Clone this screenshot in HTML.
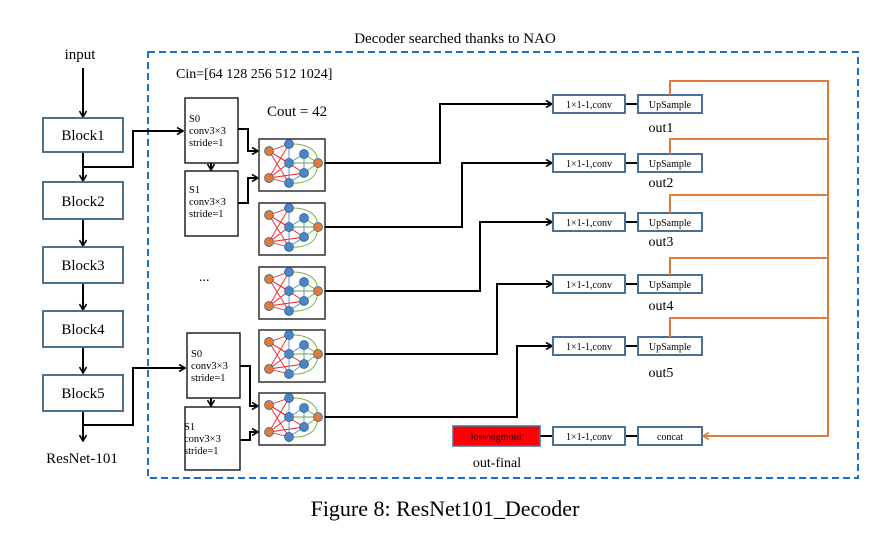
<!DOCTYPE html>
<html><head><meta charset="utf-8"><style>
html,body{margin:0;padding:0;background:#fff;}
svg{display:block;font-family:"Liberation Serif",serif;}
</style></head><body>
<svg width="896" height="546" viewBox="0 0 896 546" xmlns="http://www.w3.org/2000/svg">
<defs>
<marker id="ah" markerWidth="8" markerHeight="8" refX="7" refY="4" orient="auto" markerUnits="userSpaceOnUse"><path d="M1,0.5 L7,4 L1,7.5" fill="none" stroke="#000" stroke-width="1.6"/></marker>
<marker id="ao" markerWidth="8" markerHeight="8" refX="7" refY="4" orient="auto" markerUnits="userSpaceOnUse"><path d="M1,0.5 L7,4 L1,7.5" fill="none" stroke="#e07b39" stroke-width="1.6"/></marker>
<g id="cell">
<rect x="0" y="0" width="66" height="52" fill="#fff" stroke="#333" stroke-width="1.5"/>
<g stroke="#e22" stroke-width="0.9" fill="none">
<path d="M10,12 L30,5 M10,12 L30,24 M10,12 L30,44 M10,39 L30,5 M10,39 L30,24 M10,39 L30,44 M10,12 L45,34 M10,39 L45,34"/>
</g>
<g stroke="#4a90d9" stroke-width="0.9" fill="none">
<path d="M30,44 L30,5 M30,24 L45,15 M30,44 L45,34 M45,34 L45,15"/>
</g>
<g stroke="#6aaa3a" stroke-width="0.9" fill="none">
<path d="M30,5 Q58,4 59,24 M30,44 Q58,46 59,24 M45,15 L59,24 M45,34 L59,24 M30,24 L59,24"/>
</g>
<g stroke="#2a5a8a" stroke-width="0.7">
<circle cx="10" cy="12" r="4.5" fill="#e07b39"/><circle cx="10" cy="39" r="4.5" fill="#e07b39"/>
<circle cx="30" cy="5" r="4.5" fill="#4a86c5"/><circle cx="30" cy="24" r="4.5" fill="#4a86c5"/><circle cx="30" cy="44" r="4.5" fill="#4a86c5"/>
<circle cx="45" cy="15" r="4.5" fill="#4a86c5"/><circle cx="45" cy="34" r="4.5" fill="#4a86c5"/>
<circle cx="59" cy="24" r="4.5" fill="#e07b39"/>
</g>
</g>
</defs>

<text x="455" y="43" font-size="15" text-anchor="middle">Decoder searched thanks to NAO</text>
<rect x="148" y="52" width="710" height="426" fill="none" stroke="#1a70c8" stroke-width="2" stroke-dasharray="7,4"/>
<text x="176" y="78" font-size="14">Cin=[64 128 256 512 1024]</text>
<text x="267" y="116" font-size="15">Cout = 42</text>
<text x="199" y="281" font-size="14">...</text>

<text x="80" y="59" font-size="15" text-anchor="middle">input</text>
<g stroke="#000" stroke-width="2" fill="none" marker-end="url(#ah)">
<path d="M83,68 L83,117"/><path d="M83,152 L83,181"/><path d="M83,219 L83,246"/><path d="M83,283 L83,310"/><path d="M83,347 L83,373"/><path d="M83,411 L83,441"/>
</g>
<g fill="#fff" stroke="#4a6f95" stroke-width="2">
<rect x="43" y="118" width="80" height="34"/><rect x="43" y="182" width="80" height="37"/><rect x="43" y="247" width="80" height="36"/><rect x="43" y="311" width="80" height="36"/><rect x="43" y="375" width="80" height="36"/>
</g>
<g font-size="15" text-anchor="middle">
<text x="83" y="140">Block1</text><text x="83" y="206">Block2</text><text x="83" y="270">Block3</text><text x="83" y="334">Block4</text><text x="83" y="398">Block5</text>
</g>
<text x="82" y="463" font-size="15" text-anchor="middle">ResNet-101</text>

<g stroke="#000" stroke-width="2" fill="none">
<path d="M83,167 L133,167 L133,131 L183,131" marker-end="url(#ah)"/>
<path d="M83,425 L133,425 L133,368 L185,368" marker-end="url(#ah)"/>
</g>

<g fill="#fff" stroke="#000" stroke-width="1.3">
<rect x="185" y="98" width="53" height="65"/><rect x="185" y="171" width="53" height="65"/>
<rect x="187" y="333" width="53" height="65"/><rect x="185" y="407" width="55" height="63"/>
</g>
<g font-size="10.5">
<text x="189" y="122">S0</text><text x="189" y="134">conv3×3</text><text x="189" y="146">stride=1</text>
<text x="189" y="193">S1</text><text x="189" y="205">conv3×3</text><text x="189" y="217">stride=1</text>
<text x="191" y="357">S0</text><text x="191" y="369">conv3×3</text><text x="191" y="381">stride=1</text>
<text x="184" y="430">S1</text><text x="184" y="442">conv3×3</text><text x="184" y="454">stride=1</text>
</g>
<g stroke="#000" stroke-width="2" fill="none" marker-end="url(#ah)">
<path d="M211,163 L211,170"/><path d="M211,398 L211,406"/>
<path d="M238,129 L248,129 L248,151 L258,151"/>
<path d="M238,203 L248,203 L248,178 L258,178"/>
<path d="M240,366 L250,366 L250,406 L258,406"/>
<path d="M240,440 L250,440 L250,432 L258,432"/>
</g>

<use href="#cell" x="259" y="139"/>
<use href="#cell" x="259" y="203"/>
<use href="#cell" x="259" y="267"/>
<use href="#cell" x="259" y="330"/>
<use href="#cell" x="259" y="393"/>

<g stroke="#000" stroke-width="2" fill="none" marker-end="url(#ah)">
<path d="M325,163 L440,163 L440,104 L552,104"/>
<path d="M325,227 L462,227 L462,163 L552,163"/>
<path d="M325,291 L480,291 L480,222 L552,222"/>
<path d="M325,354 L497,354 L497,284 L552,284"/>
<path d="M325,417 L517,417 L517,346 L552,346"/>
</g>
<g stroke="#000" stroke-width="2"><path d="M540,436 L553,436"/>
<path d="M625,104 L638,104"/><path d="M625,163 L638,163"/><path d="M625,222 L638,222"/><path d="M625,284 L638,284"/><path d="M625,346 L638,346"/><path d="M625,436 L638,436"/></g>

<g fill="#fff" stroke="#4a6f95" stroke-width="2">
<rect x="553" y="95" width="72" height="18"/><rect x="553" y="154" width="72" height="18"/><rect x="553" y="213" width="72" height="18"/><rect x="553" y="275" width="72" height="18"/><rect x="553" y="337" width="72" height="18"/><rect x="553" y="427" width="72" height="18"/>
<rect x="638" y="95" width="64" height="18"/><rect x="638" y="154" width="64" height="18"/><rect x="638" y="213" width="64" height="18"/><rect x="638" y="275" width="64" height="18"/><rect x="638" y="337" width="64" height="18"/><rect x="638" y="427" width="64" height="18"/>
</g>
<rect x="453" y="426" width="87" height="20" fill="#f00" stroke="#4a6f95" stroke-width="1.5"/>
<g font-size="10" text-anchor="middle">
<text x="589" y="108">1×1-1,conv</text><text x="589" y="167">1×1-1,conv</text><text x="589" y="226">1×1-1,conv</text><text x="589" y="288">1×1-1,conv</text><text x="589" y="350">1×1-1,conv</text><text x="589" y="440">1×1-1,conv</text>
<text x="670" y="108">UpSample</text><text x="670" y="167">UpSample</text><text x="670" y="226">UpSample</text><text x="670" y="288">UpSample</text><text x="670" y="350">UpSample</text><text x="670" y="440">concat</text>
<text x="496" y="440">loss/sigmoid</text>
</g>
<g font-size="14" text-anchor="middle">
<text x="661" y="132">out1</text><text x="661" y="187">out2</text><text x="661" y="246">out3</text><text x="661" y="310">out4</text><text x="661" y="377">out5</text>
<text x="497" y="467">out-final</text>
</g>

<g stroke="#e07b39" stroke-width="2" fill="none">
<path d="M670,95 L670,81 L828,81 L828,436 L703,436" marker-end="url(#ao)"/>
<path d="M670,154 L670,139 L828,139"/>
<path d="M670,213 L670,195 L828,195"/>
<path d="M670,275 L670,258 L828,258"/>
<path d="M670,337 L670,318 L828,318"/>
</g>

<text x="445" y="516" font-size="22" text-anchor="middle">Figure 8: ResNet101_Decoder</text>
</svg>
</body></html>
